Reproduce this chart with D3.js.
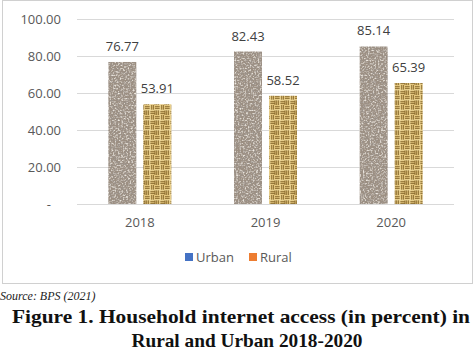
<!DOCTYPE html>
<html>
<head>
<meta charset="utf-8">
<script src="https://cdn.jsdelivr.net/npm/d3@7"></script>
<style>
  body { margin: 0; background: #fff; }
  svg { display: block; }
</style>
</head>
<body>
<svg id="chart" width="474" height="349"></svg>
<script>
var years = ["2018", "2019", "2020"]
var seriesNames = ["Urban", "Rural"]
var urban = [76.77, 82.43, 85.14]
var rural = [53.91, 58.52, 65.39]
var yTicks = [0, 20, 40, 60, 80, 100]

var svg = d3.select("#chart")
var defs = svg.append("defs")

// granite look for urban bars
var f = defs.append("filter").attr("id", "granite").attr("x", 0).attr("y", 0).attr("width", 1).attr("height", 1)
f.append("feTurbulence").attr("type", "fractalNoise").attr("baseFrequency", 0.55).attr("numOctaves", 2).attr("seed", 3).attr("result", "n")
f.append("feColorMatrix").attr("in", "n").attr("type", "matrix")
    .attr("values", "0 0 0 0 0.33  0 0 0 0 0.29  0 0 0 0 0.26  3.2 0 0 0 -1.45")
    .attr("result", "dark")
f.append("feTurbulence").attr("type", "fractalNoise").attr("baseFrequency", 0.6).attr("numOctaves", 1).attr("seed", 11).attr("result", "n2")
f.append("feColorMatrix").attr("in", "n2").attr("type", "matrix")
    .attr("values", "0 0 0 0 0.9  0 0 0 0 0.86  0 0 0 0 0.8  3.0 0 0 0 -1.4")
    .attr("result", "light")
f.append("feFlood").attr("flood-color", "#9c8f82").attr("result", "base")
var m = f.append("feMerge")
m.append("feMergeNode").attr("in", "base")
m.append("feMergeNode").attr("in", "light")
m.append("feMergeNode").attr("in", "dark")
f.append("feComposite").attr("in2", "SourceGraphic").attr("operator", "in")

// basket weave for rural bars
var p = defs.append("pattern").attr("id", "weave").attr("patternUnits", "userSpaceOnUse")
    .attr("width", 10).attr("height", 10)
p.append("rect").attr("width", 10).attr("height", 10).attr("fill", "#e3c57c")
p.append("path").attr("d", "M0,1.7H5M0,3.4H5M5,0V5M6.7,0V5M8.4,0V5M5,6.7H10M5,8.4H10M1.7,5V10M3.4,5V10")
    .attr("stroke", "#85672a").attr("stroke-width", 0.9)
p.append("rect").attr("x", 0).attr("y", 0).attr("width", 10).attr("height", 10).attr("fill", "none")
    .attr("stroke", "#f3e3ad").attr("stroke-width", 0.6)

// chart frame
svg.append("rect").attr("x", 2.5).attr("y", 0.5).attr("width", 470).attr("height", 283)
    .attr("fill", "#fff").attr("stroke", "#d0d0d0")

var plotL = 77, plotR = 454, plotT = 19, plotB = 204

var x = d3.scaleBand().domain(years).range([plotL, plotR])
var y = d3.scaleLinear().domain([0, 100]).range([plotB, plotT])

var yAxis = svg.append("g").attr("transform", "translate(" + plotL + ",0)")
    .call(d3.axisLeft(y).tickValues(yTicks).tickSize(-(plotR - plotL)).tickPadding(16)
        .tickFormat(function(d) { return d === 0 ? "-" : d.toFixed(2) }))
yAxis.select(".domain").remove()
yAxis.selectAll("line").attr("stroke", "#d9d9d9").attr("stroke-width", 1.2)
yAxis.selectAll("text").attr("fill", "#595959").attr("font-family", "Open Sans, sans-serif").attr("font-size", "13px")
yAxis.selectAll(".tick").filter(function(d) { return d === 0 }).select("text").attr("dx", -10)

var xAxis = svg.append("g").attr("transform", "translate(0," + plotB + ")")
    .call(d3.axisBottom(x).tickSize(0).tickPadding(14))
xAxis.select(".domain").remove()
xAxis.selectAll("text").attr("fill", "#595959").attr("font-family", "Open Sans, sans-serif").attr("font-size", "13px")

var barW = 28, gap = 7
var series = [urban, rural]
var fills = ["#9c8f82", "url(#weave)"]

series.forEach(function(vals, si) {
    var g = svg.append("g")
    if (si === 0) g.attr("filter", "url(#granite)")
    g.selectAll("rect").data(vals).enter().append("rect")
        .attr("x", function(d, i) { return x(years[i]) + x.bandwidth() / 2 + (si === 0 ? -gap / 2 - barW : gap / 2) })
        .attr("y", function(d) { return y(d) })
        .attr("width", barW)
        .attr("height", function(d) { return plotB - y(d) })
        .attr("fill", fills[si])
    svg.append("g").selectAll("text").data(vals).enter().append("text")
        .attr("x", function(d, i) { return x(years[i]) + x.bandwidth() / 2 + (si === 0 ? -gap / 2 - barW / 2 : gap / 2 + barW / 2) })
        .attr("y", function(d) { return y(d) - 11 })
        .attr("text-anchor", "middle")
        .attr("fill", "#404040")
        .attr("font-family", "Open Sans, sans-serif").attr("font-size", "13px")
        .text(function(d) { return d.toFixed(2) })
})

// legend
var legendColors = ["#4472c4", "#ed7d31"]
var legendX = [185, 249]
var lg = svg.append("g")
seriesNames.forEach(function(n, i) {
    lg.append("rect").attr("x", legendX[i]).attr("y", 253).attr("width", 8).attr("height", 8).attr("fill", legendColors[i])
    lg.append("text").attr("x", legendX[i] + 11).attr("y", 262)
        .attr("fill", "#595959").attr("font-family", "Open Sans, sans-serif").attr("font-size", "13px").text(n)
})

// caption
svg.append("text").attr("x", 0).attr("y", 300)
    .attr("font-family", "Liberation Serif, serif").attr("font-style", "italic").attr("font-size", "12px")
    .attr("fill", "#222")
    .text("Source: BPS (2021)")
svg.append("text").attr("x", 241).attr("y", 323).attr("text-anchor", "middle")
    .attr("font-family", "Liberation Serif, serif").attr("font-weight", "bold").attr("font-size", "19px")
    .attr("textLength", 458).attr("lengthAdjust", "spacingAndGlyphs")
    .attr("fill", "#111")
    .text("Figure 1. Household internet access (in percent) in")
svg.append("text").attr("x", 247).attr("y", 347).attr("text-anchor", "middle")
    .attr("font-family", "Liberation Serif, serif").attr("font-weight", "bold").attr("font-size", "19px")
    .attr("textLength", 231).attr("lengthAdjust", "spacingAndGlyphs")
    .attr("fill", "#111")
    .text("Rural and Urban 2018-2020")
</script>
</body>
</html>
